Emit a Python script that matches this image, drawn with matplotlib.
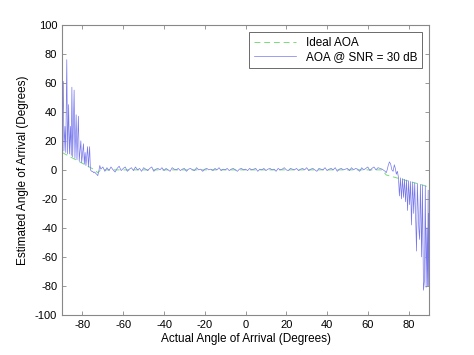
import numpy as np
import matplotlib
matplotlib.use("Agg")
import matplotlib.pyplot as plt

plt.rcParams['font.family'] = ['Liberation Sans', 'DejaVu Sans']
plt.rcParams['axes.unicode_minus'] = False

# Ideal AOA (green dashed)
ideal_x = [-90, -74, -72.5, -71, 67, 69, 87, 90]
ideal_y = [12, 0, -2, 0, 0, -3.5, -10.5, -12]

# AOA @ SNR = 30 dB, left edge (spiky part)
left_x = [-90, -89.7, -89.4, -89.1, -88.6, -88.2, -87.7, -87.3, -86.8, -86.4,
          -85.9, -85.5, -85.2, -84.8, -84.1, -83.7, -83.1, -82.7, -82.0, -81.6,
          -80.8, -80.4, -79.5, -79.1, -78.7, -78.3, -77.5, -77.1, -76.5, -76.1,
          -75.5, -75, -74.5, -74, -73.5, -73, -72.5, -72, -71.5, -71]
left_y = [14, 40, 61, 13, 30, 12, 76, 11, 45, 11,
          30, 10, 57, 9, 55, 8, 38, 7, 37, 6,
          20, 5, 18, 4, 12, 3, 16, 2, 16, 0,
          -1, -1, -2, -1.5, -2.5, -3, -4, -1, 3, 0.5]

# middle part, one value per degree from -70 to 68
mid_y = [2, -1, 1.5, -0.5, 2, 0, -1.5, 1, 2.5, -0.5,
         1, 2, -1, 0.5, 1.5, -0.5, 2, 0, 1, -1,
         1.5, 0.5, -0.5, 1, 2, -1, 0.5, 1, 0, 1.5,
         -0.5, 1, 0, -1, 1.5, 0.5, 0, 1, -0.5, 0.5,
         1, -1, 0.5, 1, 0, -0.5, 1.5, 0, 0.5, -1,
         0.5, 1, 0, 0.5, -0.5, 1, 0, 1.5, -0.5, 0.5,
         0, 1, -0.5, 0.5, 1, 0, -1, 0.5, 1, 0,
         0.5, -0.5, 1, 0, 0.5, 1, -1, 0.5, 0, 1,
         -0.5, 0.5, 1, 0, 0.5, -1, 1, 0, 0.5, 1.5,
         0, -0.5, 1, 0.5, 0, 1, -0.5, 0.5, 1, 0,
         1.5, -0.5, 0.5, 1, 0, -1, 1, 0.5, 0, 1.5,
         -0.5, 0.5, 1, 0, 1.5, -1, 0.5, 1, 0, 0.5,
         1, -0.5, 1.5, 0, 1, 0.5, -1, 1.5, 0, 1,
         2, -0.5, 1, 2, 0, 1.5, 1, 0.5, -0.5]
mid_x = np.arange(-70, 69)

# right edge (spiky part)
right_x = [68.5, 69, 69.5, 70, 70.6, 71.2, 71.8, 72.4, 73, 73.5,
           74, 74.5, 75, 75.5, 76, 76.5, 77, 77.5, 78, 78.5,
           79, 79.5, 80, 80.5, 81, 81.4, 82, 82.5, 83, 83.9,
           84.3, 85, 85.4, 85.8, 86.4, 86.8, 87.3, 87.8, 88.2, 88.6,
           89, 89.3, 89.6, 89.8, 90]
right_y = [-1, -2, 0, 3, 5.5, 4, 0, -1, 3.5, 1,
           -3, -1, -5, -18, -5.5, -20, -6, -19, -6.5, -22,
           -7, -28, -7.5, -24, -8, -38, -8.5, -30, -9, -56,
           -9.5, -40, -48, -10, -60, -10.5, -83, -76, -11, -81,
           -40, -80, -14, -80, -30]

aoa_x = np.concatenate([left_x, mid_x, right_x])
aoa_y = np.concatenate([left_y, mid_y, right_y])

fig = plt.figure(figsize=(4.74, 3.55), dpi=100)
ax = fig.add_axes([0.131, 0.113, 0.774, 0.817])

ax.plot(ideal_x, ideal_y, color='#77dd77', lw=0.7, ls=(0, (6, 4)), label='Ideal AOA')
ax.plot(aoa_x, aoa_y, color='#7777ee', lw=0.5, label='AOA @ SNR = 30 dB')

ax.set_xlim(-90, 90)
ax.set_ylim(-100, 100)
ax.set_xticks(np.arange(-80, 81, 20))
ax.set_yticks(np.arange(-100, 101, 20))
ax.tick_params(direction='in', top=True, right=True, labelsize=8, length=3,
               color='#888888', width=0.6)
for s in ax.spines.values():
    s.set_color('#888888')
    s.set_linewidth(0.8)

ax.set_xlabel('Actual Angle of Arrival (Degrees)', fontsize=8.5, labelpad=2)
ax.set_ylabel('Estimated Angle of Arrival (Degrees)', fontsize=8.5, labelpad=4)

leg = ax.legend(loc='upper right', fontsize=8.5, fancybox=False,
                borderaxespad=0.6, handlelength=3.6, labelspacing=0.2,
                borderpad=0.4)
leg.get_frame().set_edgecolor('#444444')
leg.get_frame().set_linewidth(0.7)

fig.savefig('out.png', dpi=100)
